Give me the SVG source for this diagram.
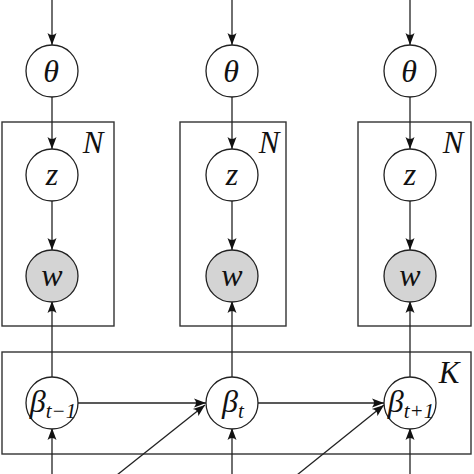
<svg xmlns="http://www.w3.org/2000/svg" width="474" height="474" viewBox="0 0 474 474">
<style>
.edge{stroke:#222;stroke-width:1.3;fill:none}
.node{stroke:#222;stroke-width:1.3;fill:#fff}
.obs{fill:#d4d4d4}
.plate{stroke:#333;stroke-width:1.4;fill:none}
.lbl{font-family:"Liberation Serif","DejaVu Serif",serif;font-style:italic;font-size:32px;fill:#111;text-anchor:middle}
.big{font-size:31px}
.sub{font-size:21px}
</style>
<defs>
<marker id="ah" viewBox="-13 -6 14 12" refX="0" refY="0" markerWidth="14" markerHeight="12" markerUnits="userSpaceOnUse" orient="auto">
<path d="M0,0 L-12,-4.5 Q-8,0 -12,4.5 Z" fill="#111"/>
</marker>
</defs>
<rect x="0" y="0" width="474" height="474" fill="#fff"/>
<g id="plates">
<rect class="plate" x="2" y="122" width="112" height="204"/>
<rect class="plate" x="180" y="122" width="106" height="204"/>
<rect class="plate" x="358" y="122" width="113" height="204"/>
<rect class="plate" x="2" y="352" width="469" height="102"/>
<text class="lbl big" x="93" y="153">N</text>
<text class="lbl big" x="269" y="153">N</text>
<text class="lbl big" x="453" y="153">N</text>
<text class="lbl big" x="449" y="383">K</text>
</g>
<g id="connectors">
<line class="edge" x1="52" y1="0" x2="52" y2="45" marker-end="url(#ah)"/>
<line class="edge" x1="232" y1="0" x2="232" y2="45" marker-end="url(#ah)"/>
<line class="edge" x1="410" y1="0" x2="410" y2="45" marker-end="url(#ah)"/>
<line class="edge" x1="52" y1="97" x2="52" y2="149" marker-end="url(#ah)"/>
<line class="edge" x1="232" y1="97" x2="232" y2="149" marker-end="url(#ah)"/>
<line class="edge" x1="410" y1="97" x2="410" y2="149" marker-end="url(#ah)"/>
<line class="edge" x1="52" y1="201" x2="52" y2="250" marker-end="url(#ah)"/>
<line class="edge" x1="232" y1="201" x2="232" y2="250" marker-end="url(#ah)"/>
<line class="edge" x1="410" y1="201" x2="410" y2="250" marker-end="url(#ah)"/>
<line class="edge" x1="52" y1="377" x2="52" y2="301" marker-end="url(#ah)"/>
<line class="edge" x1="232" y1="377" x2="232" y2="301" marker-end="url(#ah)"/>
<line class="edge" x1="410" y1="377" x2="410" y2="301" marker-end="url(#ah)"/>
<line class="edge" x1="52" y1="474" x2="52" y2="428" marker-end="url(#ah)"/>
<line class="edge" x1="232" y1="474" x2="232" y2="428" marker-end="url(#ah)"/>
<line class="edge" x1="410" y1="474" x2="410" y2="428" marker-end="url(#ah)"/>
<line class="edge" x1="78" y1="403" x2="206" y2="403" marker-end="url(#ah)"/>
<line class="edge" x1="257" y1="403" x2="384" y2="403" marker-end="url(#ah)"/>
<line class="edge" x1="117" y1="475" x2="205" y2="405" marker-end="url(#ah)"/>
<line class="edge" x1="297" y1="475" x2="384" y2="405" marker-end="url(#ah)"/>
</g>
<g id="theta1"><circle class="node" cx="52" cy="71" r="26"/><text class="lbl" x="51" y="82">θ</text></g>
<g id="theta2"><circle class="node" cx="232" cy="71" r="26"/><text class="lbl" x="231" y="82">θ</text></g>
<g id="theta3"><circle class="node" cx="410" cy="71" r="26"/><text class="lbl" x="409" y="82">θ</text></g>
<g id="z1"><circle class="node" cx="52" cy="175" r="26"/><text class="lbl" x="52" y="185">z</text></g>
<g id="z2"><circle class="node" cx="232" cy="175" r="26"/><text class="lbl" x="232" y="185">z</text></g>
<g id="z3"><circle class="node" cx="410" cy="175" r="26"/><text class="lbl" x="410" y="185">z</text></g>
<g id="w1"><circle class="node obs" cx="52" cy="276" r="26"/><text class="lbl" x="52" y="286">w</text></g>
<g id="w2"><circle class="node obs" cx="232" cy="276" r="26"/><text class="lbl" x="232" y="286">w</text></g>
<g id="w3"><circle class="node obs" cx="410" cy="276" r="26"/><text class="lbl" x="410" y="286">w</text></g>
<g id="beta_tm1"><circle class="node" cx="52" cy="403" r="26"/><text class="lbl" x="53" y="412">β<tspan class="sub" dy="6">t−1</tspan></text></g>
<g id="beta_t"><circle class="node" cx="232" cy="403" r="26"/><text class="lbl" x="233" y="412">β<tspan class="sub" dy="6">t</tspan></text></g>
<g id="beta_tp1"><circle class="node" cx="410" cy="403" r="26"/><text class="lbl" x="411" y="412">β<tspan class="sub" dy="6">t+1</tspan></text></g>
</svg>
